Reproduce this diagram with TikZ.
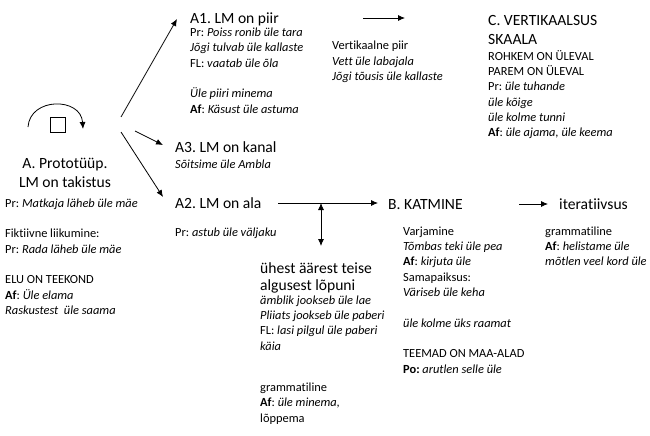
\documentclass[tikz,border=0pt]{standalone}
\usepackage{fontspec}
\setmainfont[Ligatures=NoCommon]{Carlito}
\usetikzlibrary{arrows.meta}
\frenchspacing
\newcommand{\linesL}[1]{\begin{tabular}[t]{@{}l@{}}#1\end{tabular}}
\newcommand{\linesC}[1]{\begin{tabular}[t]{@{}c@{}}#1\end{tabular}}
\begin{document}
\begin{tikzpicture}[x=1pt,y=-1pt,
  big/.style={font=\fontsize{15.6}{18.8}\selectfont, inner sep=0pt, anchor=base west},
  small/.style={font=\fontsize{12.4}{15.35}\selectfont, inner sep=0pt, anchor=base west},
  arr/.style={-{Latex[length=7pt,width=6pt]}, line width=0.8pt},
  darr/.style={{Latex[length=7pt,width=6pt]}-{Latex[length=7pt,width=6pt]}, line width=0.8pt},
]
\useasboundingbox (0,0) rectangle (650,436);

% A: prototype
\draw[arr] (28,127) .. controls (30,97) and (81,97) .. (83,129);
\draw[line width=0.8pt] (50,117) rectangle (65,132);
\node[big, anchor=base] (Atitle) at (65,168.5) {\linesC{A. Prototüüp.\\LM on takistus}};
\node[small] (Abody) at (5,207) {\linesL{Pr: \textit{Matkaja läheb üle mäe}\\[15.35pt]
Fiktiivne liikumine:\\
Pr: \textit{Rada läheb üle mäe}\\[15.35pt]
ELU ON TEEKOND\\
\textbf{Af}: \textit{Üle elama}\\
\textit{Raskustest~ üle saama}}};

% A1
\node[big] (A1title) at (190,24) {A1. LM on piir};
\node[small] (A1body) at (190,36.5) {\linesL{Pr: \textit{Poiss ronib üle tara}\\
\textit{Jõgi tulvab üle kallaste}\\
FL: \textit{vaatab üle õla}\\[15.35pt]
\textit{Üle piiri minema}\\
\textbf{Af}: \textit{Käsust üle astuma}}};

% A3
\node[big] (A3title) at (175,152.5) {A3. LM on kanal};
\node[small] (A3body) at (175,168) {\textit{Sõitsime üle Ambla}};

% A2
\node[big] (A2title) at (175,208.5) {A2. LM on ala};
\node[small] (A2body) at (175,236) {Pr: \textit{astub üle väljaku}};

% vertical border
\node[small] (Vbody) at (332,50) {\linesL{Vertikaalne piir\\
\textit{Vett üle labajala}\\
\textit{Jõgi tõusis üle kallaste}}};

% C
\node[big] (Ctitle) at (488,25.5) {\linesL{C. VERTIKAALSUS\\SKAALA}};
\node[small] (Cbody) at (488,60) {\linesL{ROHKEM ON ÜLEVAL\\
PAREM ON ÜLEVAL\\
Pr: \textit{üle tuhande}\\
\textit{üle kõige}\\
\textit{üle kolme tunni}\\
\textbf{Af}: \textit{üle ajama, üle keema}}};

% uhest
\node[big, font=\fontsize{15.6}{17.5}\selectfont] (Utitle) at (260,273) {\linesL{ühest äärest teise\\algusest lõpuni}};
\node[small] (Ubody) at (260,304) {\linesL{\textit{ämblik jookseb üle lae}\\
\textit{Pliiats jookseb üle paberi}\\
FL: \textit{lasi pilgul üle paberi}\\
\textit{käia}}};
\node[small] (Ugram) at (260,391.5) {\linesL{grammatiline\\
\textbf{Af}: \textit{üle minema,}\\
lõppema}};

% B
\node[big] (Btitle) at (388,209.5) {B. KATMINE};
\node[small] (Bbody) at (403,235) {\linesL{Varjamine\\
\textit{Tõmbas teki üle pea}\\
\textbf{Af}: \textit{kirjuta üle}\\
Samapaiksus:\\
\textit{Väriseb üle keha}\\[15.35pt]
\textit{üle kolme üks raamat}\\[15.35pt]
TEEMAD ON MAA-ALAD\\
\textbf{Po:} \textit{arutlen selle üle}}};

% iteratiivsus
\node[big] (Ititle) at (559,209.5) {iteratiivsus};
\node[small] (Ibody) at (545,235) {\linesL{grammatiline\\
\textbf{Af}: \textit{helistame üle}\\
\textit{mõtlen veel kord üle}}};

% connector coordinates
\coordinate (fork1) at (121,117);
\coordinate (fork2) at (135,131);
\coordinate (fork3) at (121,132);
\coordinate (toA1) at (177,19);
\coordinate (toA3) at (163,145);
\coordinate (toA2) at (163,197);
\coordinate (vs) at (363,18);
\coordinate (ve) at (405,18);
\coordinate (hs) at (278,203);
\coordinate (he) at (378,203);
\coordinate (dtop) at (321,203);
\coordinate (dbot) at (321,246);
\coordinate (bs) at (519,204);
\coordinate (be) at (548,204);

\draw[arr] (fork1) -- (toA1);
\draw[arr] (fork2) -- (toA3);
\draw[arr] (fork3) -- (toA2);
\draw[arr] (vs) -- (ve);
\draw[arr] (hs) -- (he);
\draw[darr] (dtop) -- (dbot);
\draw[arr] (bs) -- (be);
\end{tikzpicture}
\end{document}
